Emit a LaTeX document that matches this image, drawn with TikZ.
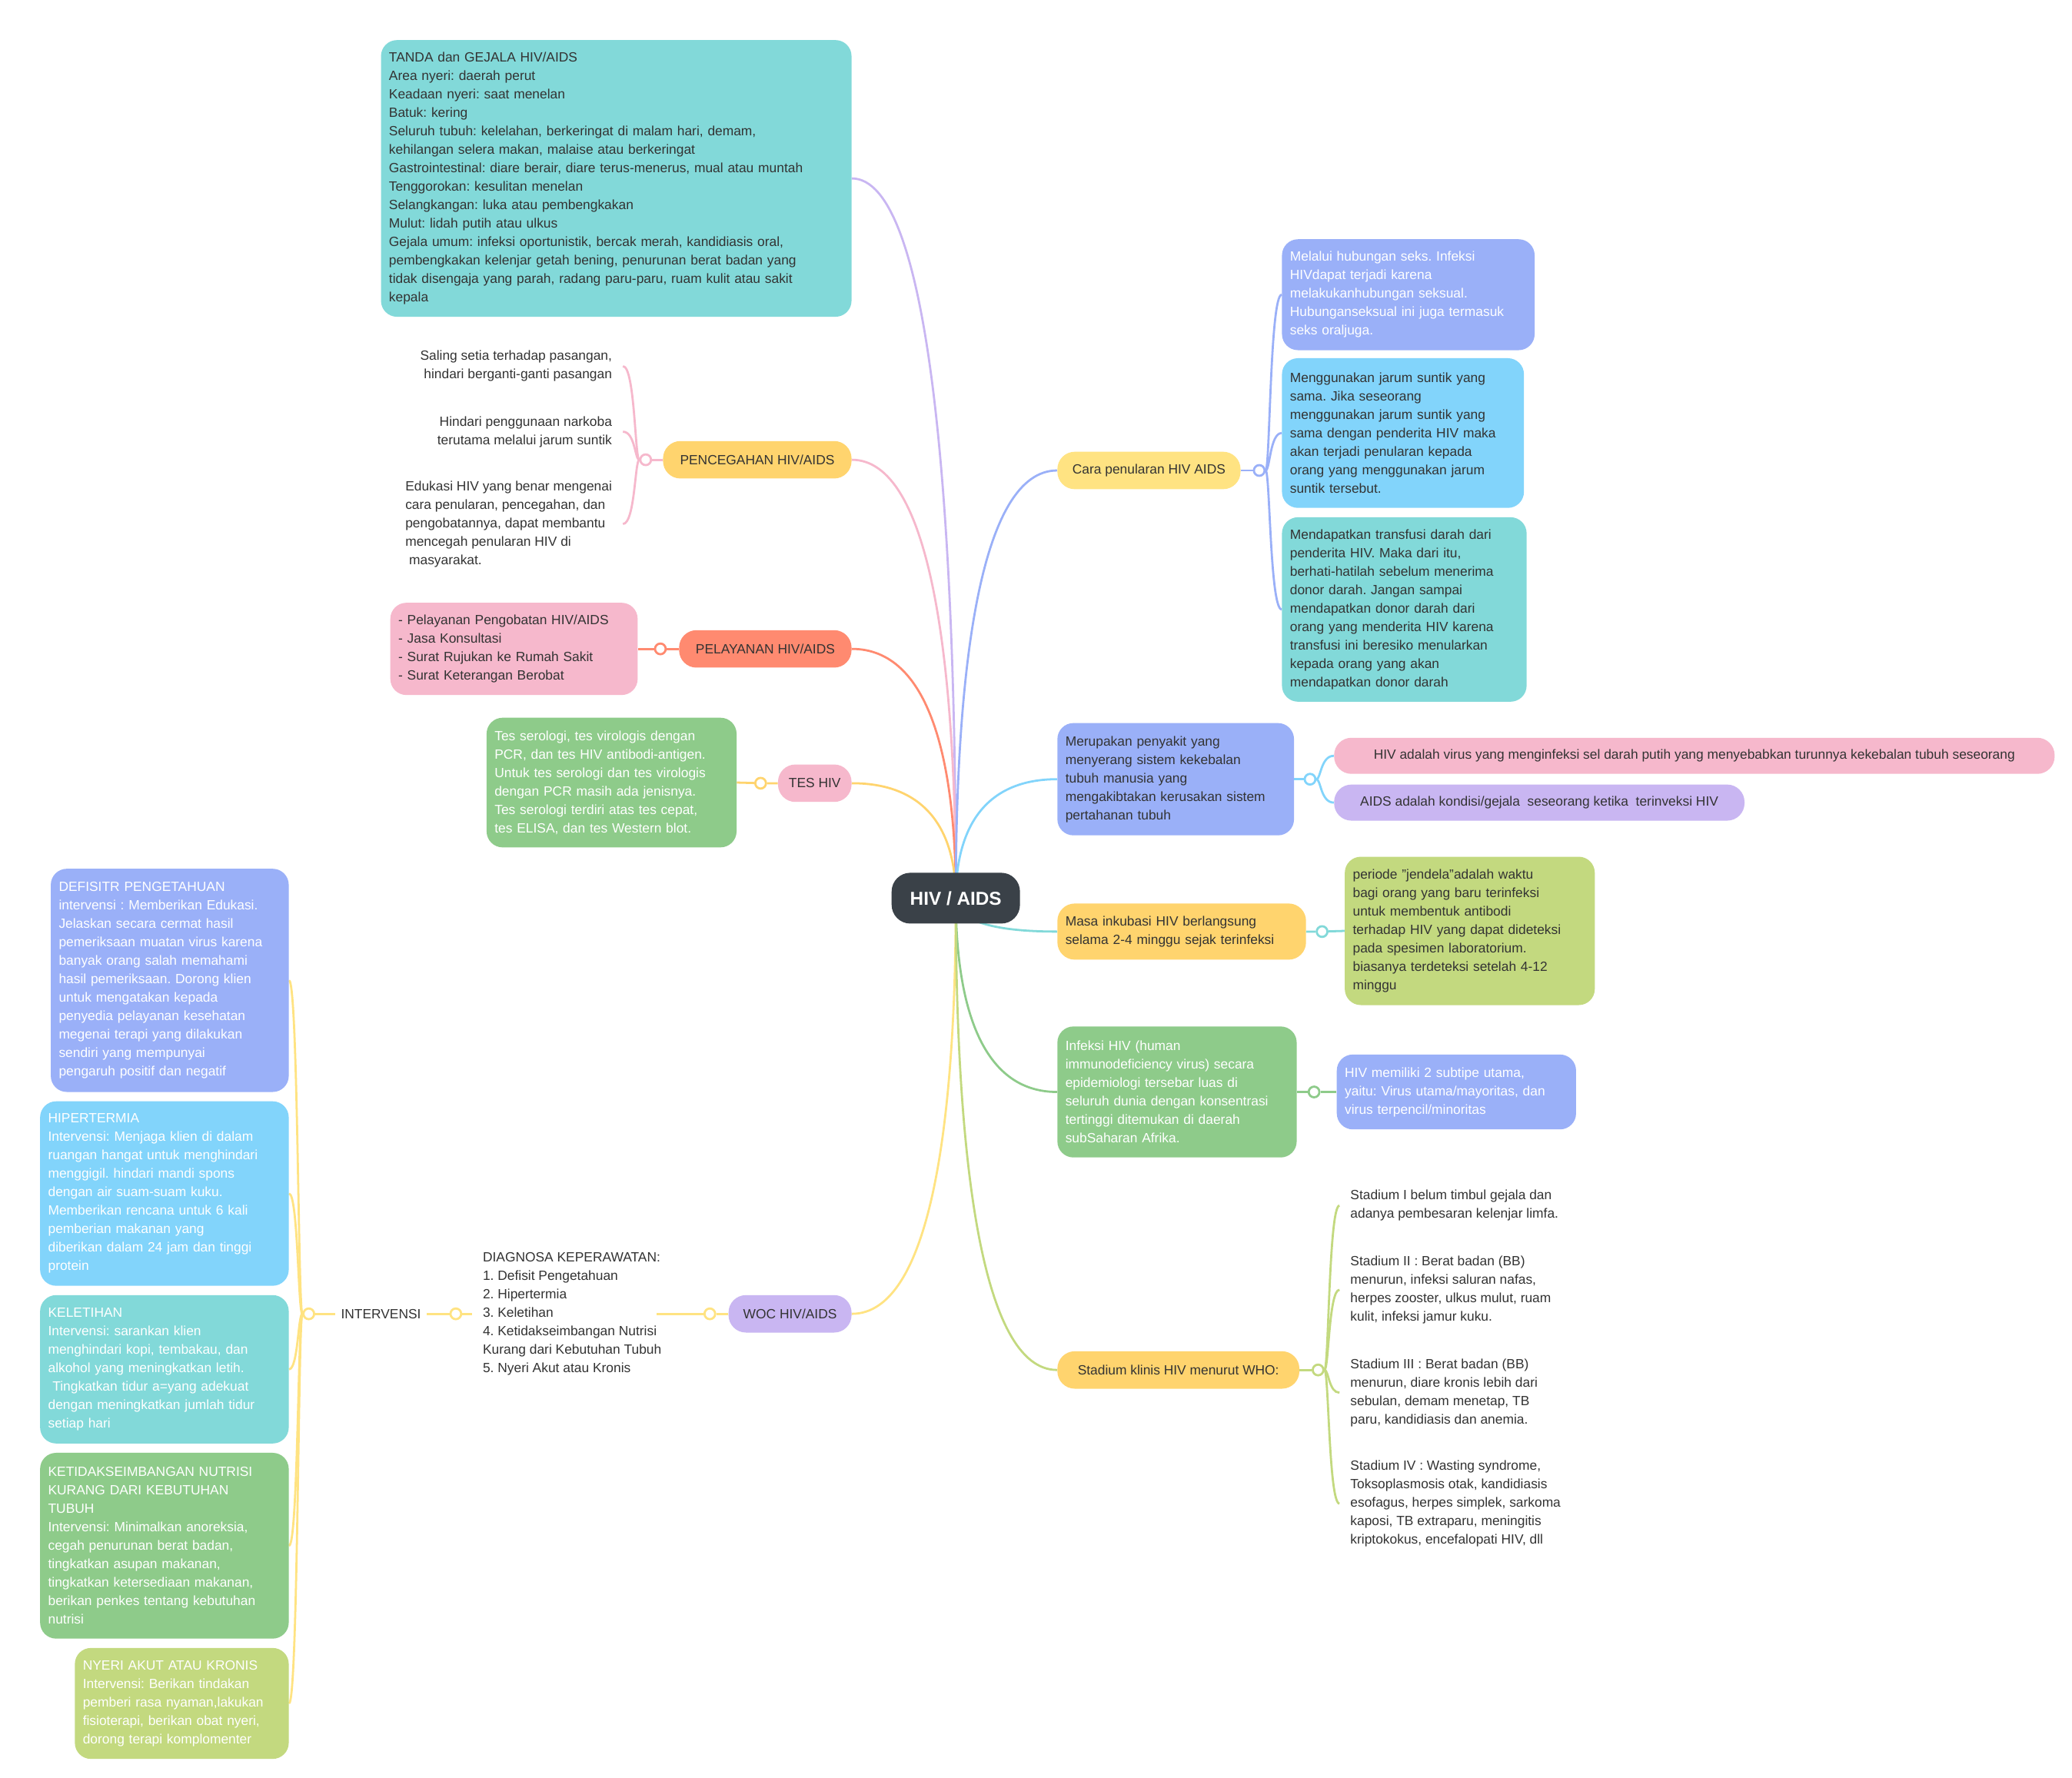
\documentclass[tikz,border=0pt]{standalone}
\usepackage{fontspec}
\setmainfont{Liberation Sans}
\frenchspacing
\usetikzlibrary{calc}
\pgfdeclarelayer{bg}\pgfdeclarelayer{paper}\pgfsetlayers{paper,bg,main}
\definecolor{cteal}{HTML}{82D9D9}
\definecolor{cylw}{HTML}{FFD46E}
\definecolor{cylw2}{HTML}{FFE382}
\definecolor{csal}{HTML}{FF8A70}
\definecolor{cpink}{HTML}{F6B8CC}
\definecolor{cgreen}{HTML}{8ECB8A}
\definecolor{cpurp}{HTML}{C9B6F2}
\definecolor{cblue}{HTML}{9AB0F8}
\definecolor{clb}{HTML}{82D4FB}
\definecolor{clime}{HTML}{C3D97F}
\definecolor{cdark}{HTML}{3A4148}
\definecolor{ctxt}{HTML}{333333}
\tikzset{
 bx/.style={rounded corners=12pt, inner xsep=6pt, inner ysep=5pt, align=left, text=ctxt,
   font=\fontsize{10}{13.8}\selectfont},
 pill/.style={rounded corners=13pt, inner sep=0pt, minimum height=28pt, text=ctxt,
   font=\fontsize{10}{12}\selectfont},
 tx/.style={inner sep=8pt, text=ctxt, font=\fontsize{10}{13.8}\selectfont},
 dot/.style={circle, draw=#1, fill=white, line width=1.6pt, inner sep=0pt, minimum size=8pt},
 ln/.style={draw=#1, line width=1.6pt},
}
\newcommand{\hubl}[2]{\draw[ln=#1] (hub.center) .. controls ($(hub.center)!0.55!(hub.center |- #2)$) and ($(hub.center |- #2)!0.25!(#2)$) .. (#2);}
\newcommand{\chl}[3]{\draw[ln=#1] (#2) .. controls ($(#2)+(8,0)$) and ($(#2 |- #3)+(8,0)$) .. (#3);}
\newcommand{\chr}[3]{\draw[ln=#1] (#2) .. controls ($(#2)+(-8,0)$) and ($(#2 |- #3)+(-8,0)$) .. (#3);}
\begin{document}
\begin{tikzpicture}[x=1pt,y=-1pt]
\begin{pgfonlayer}{paper}
\fill[white] (0,0) rectangle (1550,1330);
\end{pgfonlayer}
\useasboundingbox (0,0) rectangle (1550,1330);
\node[rounded corners=14pt, fill=cdark, text=white, font=\bfseries\fontsize{14}{16}\selectfont, minimum width=96pt, minimum height=38pt] (hub) at (715,672) {HIV / AIDS};

% left side
\node[bx, fill=cteal, text width=340pt, minimum height=207pt] (tanda) at (461,133.5) {TANDA dan GEJALA HIV/AIDS\\Area nyeri: daerah perut\\Keadaan nyeri: saat menelan\\Batuk: kering\\Seluruh tubuh: kelelahan, berkeringat di malam hari, demam,\\kehilangan selera makan, malaise atau berkeringat\\Gastrointestinal: diare berair, diare terus-menerus, mual atau muntah\\Tenggorokan: kesulitan menelan\\Selangkangan: luka atau pembengkakan\\Mulut: lidah putih atau ulkus\\Gejala umum: infeksi oportunistik, bercak merah, kandidiasis oral,\\pembengkakan kelenjar getah bening, penurunan berat badan yang\\tidak disengaja yang parah, radang paru-paru, ruam kulit atau sakit\\kepala};

\node[pill, fill=cylw, minimum width=141pt] (pen) at (566.5,344) {PENCEGAHAN HIV/AIDS};
\node[dot=cpink] (penc) at (483,344) {};
\node[tx, anchor=east, align=right] (pen1) at (466,274) {Saling setia terhadap pasangan,\\hindari berganti-ganti pasangan};
\node[tx, anchor=east, align=right] (pen2) at (466,323) {Hindari penggunaan narkoba\\terutama melalui jarum suntik};
\node[tx, anchor=east, align=left] (pen3) at (466,392) {Edukasi HIV yang benar mengenai\\cara penularan, pencegahan, dan\\pengobatannya, dapat membantu\\mencegah penularan HIV di\\\ masyarakat.};

\node[pill, fill=csal, minimum width=129pt] (pel) at (572.5,485.5) {PELAYANAN HIV/AIDS};
\node[dot=csal] (pelc) at (494,485.5) {};
\node[bx, fill=cpink, text width=173pt, minimum height=69pt] (pel1) at (384.5,485.5) {- Pelayanan Pengobatan HIV/AIDS\\- Jasa Konsultasi\\- Surat Rujukan ke Rumah Sakit\\- Surat Keterangan Berobat};

\node[pill, fill=cpink, minimum width=55pt] (tes) at (609.5,586) {TES HIV};
\node[dot=cylw] (tesc) at (569,586) {};
\node[bx, fill=cgreen, text=white, text width=175pt, minimum height=97pt] (tes1) at (457.5,585.5) {Tes serologi, tes virologis dengan\\PCR, dan tes HIV antibodi-antigen.\\Untuk tes serologi dan tes virologis\\dengan PCR masih ada jenisnya.\\Tes serologi terdiri atas tes cepat,\\tes ELISA, dan tes Western blot.};

\node[pill, fill=cpurp, minimum width=92pt] (woc) at (591,983) {WOC HIV/AIDS};
\node[dot=cylw2] (wocc) at (531,983) {};
\node[tx, anchor=west, align=left] (diag) at (353,983) {DIAGNOSA KEPERAWATAN:\\1. Defisit Pengetahuan\\2. Hipertermia\\3. Keletihan\\4. Ketidakseimbangan Nutrisi\\Kurang dari Kebutuhan Tubuh\\5. Nyeri Akut atau Kronis};
\node[dot=cylw2] (diagc) at (341,983) {};
\node[tx, inner sep=4pt] (int) at (285,983) {INTERVENSI};
\node[dot=cylw2] (intc) at (231,983) {};

\node[bx, fill=cblue, text=white, text width=166pt, minimum height=167pt] (i1) at (127,733.5) {DEFISITR PENGETAHUAN\\intervensi : Memberikan Edukasi.\\Jelaskan secara cermat hasil\\pemeriksaan muatan virus karena\\banyak orang salah memahami\\hasil pemeriksaan. Dorong klien\\untuk mengatakan kepada\\penyedia pelayanan kesehatan\\megenai terapi yang dilakukan\\sendiri yang mempunyai\\pengaruh positif dan negatif};
\node[bx, fill=clb, text=white, text width=174pt, minimum height=138pt] (i2) at (123,893) {HIPERTERMIA\\Intervensi: Menjaga klien di dalam\\ruangan hangat untuk menghindari\\menggigil. hindari mandi spons\\dengan air suam-suam kuku.\\Memberikan rencana untuk 6 kali\\pemberian makanan yang\\diberikan dalam 24 jam dan tinggi\\protein};
\node[bx, fill=cteal, text=white, text width=174pt, minimum height=111pt] (i3) at (123,1024.5) {KELETIHAN\\Intervensi: sarankan klien\\menghindari kopi, tembakau, dan\\alkohol yang meningkatkan letih.\\\ Tingkatkan tidur a=yang adekuat\\dengan meningkatkan jumlah tidur\\setiap hari};
\node[bx, fill=cgreen, text=white, text width=174pt, minimum height=139pt] (i4) at (123,1156.5) {KETIDAKSEIMBANGAN NUTRISI\\KURANG DARI KEBUTUHAN\\TUBUH\\Intervensi: Minimalkan anoreksia,\\cegah penurunan berat badan,\\tingkatkan asupan makanan,\\tingkatkan ketersediaan makanan,\\berikan penkes tentang kebutuhan\\nutrisi};
\node[bx, fill=clime, text=white, text width=148pt, minimum height=83pt] (i5) at (136,1274.5) {NYERI AKUT ATAU KRONIS\\Intervensi: Berikan tindakan\\pemberi rasa nyaman,lakukan\\fisioterapi, berikan obat nyeri,\\dorong terapi komplomenter};

% right side
\node[pill, fill=cylw2, minimum width=137pt] (cara) at (859.5,352) {Cara penularan HIV AIDS};
\node[dot=cblue] (carac) at (942,352) {};
\node[bx, fill=cblue, text=white, text width=177pt, minimum height=83pt] (c1) at (1053.5,220.5) {Melalui hubungan seks. Infeksi\\HIVdapat terjadi karena\\melakukanhubungan seksual.\\Hubunganseksual ini juga termasuk\\seks oraljuga.};
\node[bx, fill=clb, text width=169pt, minimum height=112pt] (c2) at (1049.5,324) {Menggunakan jarum suntik yang\\sama. Jika seseorang\\menggunakan jarum suntik yang\\sama dengan penderita HIV maka\\akan terjadi penularan kepada\\orang yang menggunakan jarum\\suntik tersebut.};
\node[bx, fill=cteal, text width=171pt, minimum height=138pt] (c3) at (1050.5,456) {Mendapatkan transfusi darah dari\\penderita HIV. Maka dari itu,\\berhati-hatilah sebelum menerima\\donor darah. Jangan sampai\\mendapatkan donor darah dari\\orang yang menderita HIV karena\\transfusi ini beresiko menularkan\\kepada orang yang akan\\mendapatkan donor darah};

\node[bx, fill=cblue, text width=165pt, minimum height=84pt] (mer) at (879.5,583) {Merupakan penyakit yang\\menyerang sistem kekebalan\\tubuh manusia yang\\mengakibtakan kerusakan sistem\\pertahanan tubuh};
\node[dot=clb] (merc) at (980,583) {};
\node[pill, fill=cpink, minimum width=539pt, minimum height=27pt] (m1) at (1267.5,565.5) {HIV adalah virus yang menginfeksi sel darah putih yang menyebabkan turunnya kekebalan tubuh seseorang};
\node[pill, fill=cpurp, minimum width=307pt, minimum height=27pt] (m2) at (1151.5,600.5) {AIDS adalah kondisi/gejala \ seseorang ketika \ terinveksi HIV};

\node[bx, fill=cylw, rounded corners=13pt, text width=174pt, minimum height=42pt] (masa) at (884,697) {Masa inkubasi HIV berlangsung\\selama 2-4 minggu sejak terinfeksi};
\node[dot=cteal] (masac) at (989,697) {};
\node[bx, fill=clime, text width=175pt, minimum height=111pt] (ma1) at (1099.5,696.5) {periode "jendela"adalah waktu\\bagi orang yang baru terinfeksi\\untuk membentuk antibodi\\terhadap HIV yang dapat dideteksi\\pada spesimen laboratorium.\\biasanya terdeteksi setelah 4-12\\minggu};

\node[bx, fill=cgreen, text=white, text width=167pt, minimum height=98pt] (inf) at (880.5,817) {Infeksi HIV (human\\immunodeficiency virus) secara\\epidemiologi tersebar luas di\\seluruh dunia dengan konsentrasi\\tertinggi ditemukan di daerah\\subSaharan Afrika.};
\node[dot=cgreen] (infc) at (983,817) {};
\node[bx, fill=cblue, text=white, text width=167pt, minimum height=56pt] (inf1) at (1089.5,817) {HIV memiliki 2 subtipe utama,\\yaitu: Virus utama/mayoritas, dan\\virus terpencil/minoritas};

\node[pill, fill=cylw, minimum width=181pt] (sta) at (881.5,1025) {Stadium klinis HIV menurut WHO:};
\node[dot=clime] (stac) at (986,1025) {};
\node[tx, anchor=west, align=left] (s1) at (1002,902) {Stadium I belum timbul gejala dan\\adanya pembesaran kelenjar limfa.};
\node[tx, anchor=west, align=left] (s2) at (1002,965) {Stadium II : Berat badan (BB)\\menurun, infeksi saluran nafas,\\herpes zooster, ulkus mulut, ruam\\kulit, infeksi jamur kuku.};
\node[tx, anchor=west, align=left] (s3) at (1002,1042) {Stadium III : Berat badan (BB)\\menurun, diare kronis lebih dari\\sebulan, demam menetap, TB\\paru, kandidiasis dan anemia.};
\node[tx, anchor=west, align=left] (s4) at (1002,1125) {Stadium IV : Wasting syndrome,\\Toksoplasmosis otak, kandidiasis\\esofagus, herpes simplek, sarkoma\\kaposi, TB extraparu, meningitis\\kriptokokus, encefalopati HIV, dll};

\begin{pgfonlayer}{bg}
\hubl{cpurp}{tanda.east}
\hubl{cpink}{pen.east}
\hubl{csal}{pel.east}
\hubl{cylw}{tes.east}
\hubl{cylw2}{woc.east}
\hubl{cblue}{cara.west}
\hubl{clb}{mer.west}
\hubl{cteal}{masa.west}
\hubl{cgreen}{inf.west}
\hubl{clime}{sta.west}
\draw[ln=cpink] (pen.west) -- (penc);
\chr{cpink}{penc}{pen1.east}
\chr{cpink}{penc}{pen2.east}
\chr{cpink}{penc}{pen3.east}
\draw[ln=csal] (pel.west) -- (pelc) -- (pel1.east);
\draw[ln=cylw] (tes.west) -- (tesc) -- (tes1.east);
\draw[ln=cylw2] (woc.west) -- (wocc) -- ($(diag.east)+(-12,0)$);
\draw[ln=cylw2] (diag.west) -- (diagc) -- (int.east);
\draw[ln=cylw2] (int.west) -- (intc);
\chr{cylw2}{intc}{i1.east}
\chr{cylw2}{intc}{i2.east}
\chr{cylw2}{intc}{i3.east}
\chr{cylw2}{intc}{i4.east}
\chr{cylw2}{intc}{i5.east}
\draw[ln=cblue] (cara.east) -- (carac);
\chl{cblue}{carac}{c1.west}
\chl{cblue}{carac}{c2.west}
\chl{cblue}{carac}{c3.west}
\draw[ln=clb] (mer.east) -- (merc);
\chl{clb}{merc}{m1.west}
\chl{clb}{merc}{m2.west}
\draw[ln=cteal] (masa.east) -- (masac) -- (ma1.west);
\draw[ln=cgreen] (inf.east) -- (infc) -- (inf1.west);
\draw[ln=clime] (sta.east) -- (stac);
\chl{clime}{stac}{s1.west}
\chl{clime}{stac}{s2.west}
\chl{clime}{stac}{s3.west}
\chl{clime}{stac}{s4.west}
\end{pgfonlayer}
\end{tikzpicture}
\end{document}
